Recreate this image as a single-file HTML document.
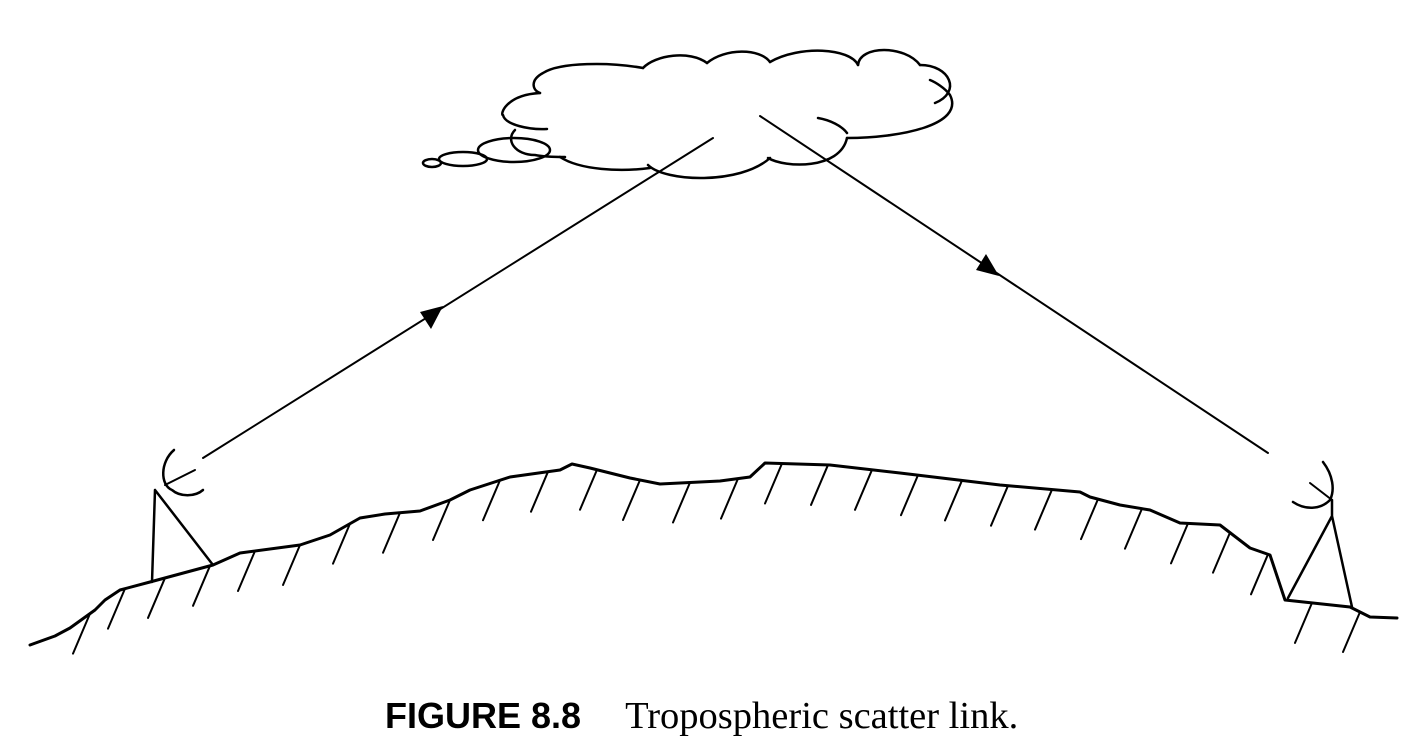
<!DOCTYPE html>
<html><head><meta charset="utf-8"><style>
html,body{margin:0;padding:0;background:#fff;width:1407px;height:752px;overflow:hidden}
svg{position:absolute;left:0;top:0}
.c{position:absolute;top:694px;left:385px;font-size:38.5px;white-space:nowrap}
.b{font-family:"Liberation Sans",sans-serif;font-weight:bold;font-size:36px}
.s{font-family:"Liberation Serif",serif;margin-left:44px}
</style></head><body>
<svg width="1407" height="752" id="s" fill="none" stroke="#000" stroke-linecap="round" stroke-linejoin="round">
<g stroke-width="2.5">
<path d="M643,68 C610,62 560,62 543,73 C530,80 532,90 540,93"/>
<path d="M540,93 C505,95 500,115 503,115 C505,125 530,130 547,129"/>
<path d="M515,130 C505,140 515,155 535,155 C545,157 555,157 565,157"/>
<path d="M560,157 C580,170 620,172 650,168"/>
<path d="M648,165 C665,182 740,185 770,158"/>
<path d="M768,158 C785,168 840,170 847,138"/>
<path d="M818,118 C830,120 842,126 847,133"/>
<path d="M847,138 C900,138 965,125 950,95 C945,88 935,82 930,80"/>
<path d="M935,103 C962,92 950,65 920,65"/>
<path d="M920,65 C905,45 860,45 858,65"/>
<path d="M858,65 C850,48 800,45 770,62"/>
<path d="M770,62 C760,48 725,48 707,63"/>
<path d="M707,63 C690,50 655,55 643,68"/>
<ellipse cx="432" cy="163" rx="9" ry="4"/>
<ellipse cx="463" cy="159" rx="24" ry="7"/>
<ellipse cx="514" cy="150" rx="36" ry="12"/>
</g>
<g stroke-width="2">
<line x1="203" y1="458" x2="713" y2="138"/>
<line x1="760" y1="116" x2="1268" y2="453"/>
<line x1="165" y1="485" x2="195" y2="470"/>
<line x1="1310" y1="483" x2="1332" y2="500"/>
</g>
<polygon points="443,306 420,312 431,329" fill="#000" stroke="none"/>
<polygon points="999,276 976,270 986,254" fill="#000" stroke="none"/>
<g stroke-width="2.5">
<path d="M174,450 C160,462 160,485 172,490 C180,497 195,497 203,490"/>
<path d="M1323,462 C1333,475 1335,490 1330,500 C1320,510 1305,510 1293,502"/>
<path d="M155,490 L152,582 M155,490 L213,565"/>
<path d="M1332,500 L1332,516 L1288,598 M1332,516 L1352,607"/>
</g>
<path id="t" stroke-width="3" d=""/>
<g id="h" stroke-width="2"></g>
</svg>
<div class="c"><span class="b">FIGURE 8.8</span><span class="s">Tropospheric scatter link.</span></div>
<script>
var P=[[30,645],[55,636],[70,628],[95,610],[105,600],[120,590],[150,582],[213,565],[240,553],[300,545],[330,535],[360,518],[385,514],[420,511],[450,500],[470,490],[510,477],[560,470],[572,464],[590,468],[630,478],[660,484],[720,481],[750,477],[765,463],[830,465],[900,473],[1000,485],[1080,492],[1090,497],[1120,505],[1150,510],[1180,523],[1220,525],[1250,548],[1270,555],[1285,600],[1350,607],[1370,617],[1397,618]];
document.getElementById('t').setAttribute('d','M'+P.map(p=>p.join(',')).join(' L'));
function y(x){for(var i=0;i<P.length-1;i++){if(x>=P[i][0]&&x<=P[i+1][0]){var t=(x-P[i][0])/(P[i+1][0]-P[i][0]);return P[i][1]+t*(P[i+1][1]-P[i][1]);}}return 600;}
var X=[90,125,165,210,255,300,350,400,450,500,548,597,640,690,738,782,828,872,918,962,1008,1052,1098,1142,1188,1230,1268,1312,1360];
var g=document.getElementById('h'),s='';
X.forEach(function(x){var yy=y(x);s+='<line x1="'+x+'" y1="'+yy+'" x2="'+(x-17)+'" y2="'+(yy+40)+'"/>';});
g.innerHTML=s;
</script>
</body></html>
